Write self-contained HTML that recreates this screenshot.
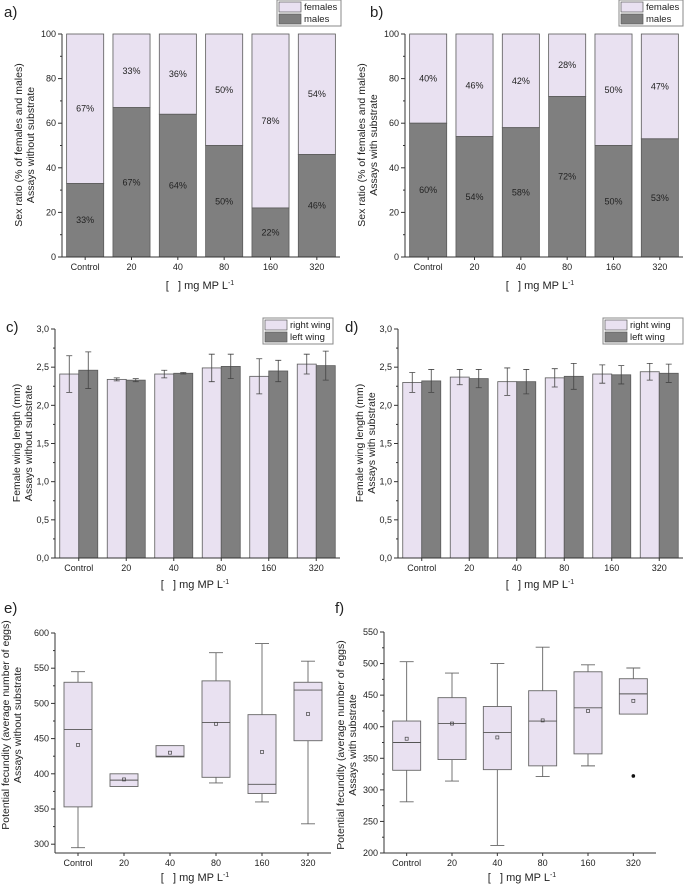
<!DOCTYPE html>
<html><head><meta charset="utf-8">
<style>
html,body{margin:0;padding:0;background:#fff;}
svg{display:block;font-family:"Liberation Sans",Arial,sans-serif;}
</style></head>
<body>
<svg id="fig" width="685" height="887" viewBox="0 0 685 887" xmlns="http://www.w3.org/2000/svg"></svg>
<script>
const categories = ["Control","20","40","80","160","320"];
// sex ratio (males %)
const malesA = [33,67,64,50,22,46];
const malesB = [60,54,58,72,50,53];
// wing lengths
const rightC = [2.41,2.34,2.41,2.49,2.38,2.54];
const rightCErr = [0.24,0.02,0.05,0.18,0.23,0.13];
const leftC = [2.46,2.33,2.42,2.51,2.45,2.52];
const leftCErr = [0.24,0.02,0.01,0.16,0.14,0.19];
const rightD = [2.30,2.37,2.31,2.36,2.41,2.44];
const rightDErr = [0.13,0.10,0.18,0.12,0.12,0.11];
const leftD = [2.32,2.35,2.31,2.38,2.40,2.42];
const leftDErr = [0.15,0.12,0.16,0.17,0.12,0.12];
// fecundity boxes: [whiskerLow, q1, median, q3, whiskerHigh, mean]
const boxE_low = [295,382,424,387,360,329];
const boxE_q1 = [353,382,424,395,372,447];
const boxE_med = [463,391,425,473,385,519];
const boxE_q3 = [530,400,440,532,484,530];
const boxE_high = [545,400,440,572,585,560];
const boxE_mean = [441,392,430,471,431,485];
const boxF_low = [281,314,212,321,338,420];
const boxF_q1 = [331,348,332,338,357,420];
const boxF_med = [375,405,391,409,430,452];
const boxF_q3 = [409,446,432,457,487,476];
const boxF_high = [503,485,500,526,498,493];
const boxF_mean = [381,405,383,410,425,441];
const outliersF = [[5,322]];
const ticksSex = [0,20,40,60,80,100];
const ticksWing = [0,0.5,1.0,1.5,2.0,2.5,3.0];
const ticksE = [300,350,400,450,500,550,600];
const ticksF = [200,250,300,350,400,450,500,550];

const svg = document.getElementById('fig');
const NS = 'http://www.w3.org/2000/svg';
const LIGHT = '#e9e1f1', DARK = '#7f7f7f', EDGE = '#5a5a5a';
function el(tag, attrs, parent){
  const e = document.createElementNS(NS, tag);
  for (const k in attrs) e.setAttribute(k, attrs[k]);
  (parent||svg).appendChild(e); return e;
}
function txt(x,y,s,size,anchor,parent,rot){
  const t = el('text',{x:x,y:y,'font-size':size,'text-anchor':anchor||'middle',fill:'#222'},parent);
  if (rot) t.setAttribute('transform','rotate(-90 '+x+' '+y+')');
  t.textContent = s; return t;
}
function fmt(v,comma){ return comma ? v.toFixed(1).replace('.',',') : String(v); }

function axes(g, L, R, T, B, yMin, yMax, ticks, comma, minor){
  const ys = v => B - (v - yMin)/(yMax - yMin)*(B - T);
  el('line',{x1:L,y1:T,x2:L,y2:B,stroke:'#333','stroke-width':1},g);
  el('line',{x1:L,y1:B,x2:R,y2:B,stroke:'#333','stroke-width':1},g);
  ticks.forEach((v,i)=>{
    const y = ys(v);
    el('line',{x1:L-4,y1:y,x2:L,y2:y,stroke:'#333'},g);
    const t = txt(L-6,y+3,fmt(v,comma),9,'end',g);
    
    
    if (minor && i < ticks.length-1){
      const ym = ys((v+ticks[i+1])/2);
      el('line',{x1:L-2,y1:ym,x2:L,y2:ym,stroke:'#333'},g);
    }
  });
  return ys;
}
function xLabels(g, L, band, B){
  categories.forEach((c,i)=>{
    const x = L + band*(i+0.5);
    el('line',{x1:x,y1:B,x2:x,y2:B+3,stroke:'#333'},g);
    const t = txt(x,B+13,c,9,'middle',g);
    
    
  });
}
function xTitle(g,x,y){
  const t = el('text',{x:x,y:y,'font-size':11,'text-anchor':'middle',fill:'#222'},g);
  
  
  t.innerHTML = '[&#160;&#160;&#160;] mg MP L<tspan dy="-4" font-size="7">-1</tspan>';
}
function yTitle(g,x,y,l1,l2){
  const t1 = txt(x,y,l1,10.5,'middle',g,true);
  
  
  const t2 = txt(x+12,y,l2,10.5,'middle',g,true);
  
  
}
function panelLabel(x,y,s){
  const t = txt(x,y,s,15,'start');
  
  
}
function legend(g,x,y,w,labels){
  const r = el('rect',{x:x,y:y,width:w,height:26,fill:'#fff',stroke:'#888'},g);
  
  
  labels.forEach((lb,i)=>{
    const s = el('rect',{x:x+2,y:y+2+i*12,width:22,height:10,fill:i?DARK:LIGHT,stroke:EDGE,'stroke-width':0.7},g);
    
    
    const t = txt(x+27,y+10+i*12,lb,9.5,'start',g);
    
    
  });
}

function sexPanel(name, L, R, T, B, males){
  const g = el('g',{});  
  const band = (R-L)/6, bw = band*0.8;
  const ys = v => B - v/100*(B-T);
  males.forEach((m,i)=>{
    const x = L + band*(i+0.5) - bw/2;
    const f = el('rect',{x:x,y:ys(100),width:bw,height:ys(m)-ys(100),fill:LIGHT,stroke:EDGE,'stroke-width':0.8},g);
     
    const mm = el('rect',{x:x,y:ys(m),width:bw,height:B-ys(m),fill:DARK,stroke:EDGE,'stroke-width':0.8},g);
     
    const t1 = txt(x+bw/2,(ys(100)+ys(m))/2+3,(100-m)+'%',9,'middle',g);
     
    const t2 = txt(x+bw/2,(ys(m)+B)/2+3,m+'%',9,'middle',g);
     
  });
  axes(g,L,R,T,B,0,100,ticksSex,false,true);
  xLabels(g,L,band,B);
  return g;
}
function wingPanel(name, L, R, T, B, rv, re, lv, le){
  const g = el('g',{});  
  const band = (R-L)/6, bw = band*0.4;
  const ys = v => B - v/3*(B-T);
  [[rv,re,LIGHT,'bar-right-wing',-1],[lv,le,DARK,'bar-left-wing',0]].forEach(s=>{
    s[0].forEach((v,i)=>{
      const x = L + band*(i+0.5) + s[4]*bw;
      const r = el('rect',{x:x,y:ys(v),width:bw,height:B-ys(v),fill:s[2],stroke:EDGE,'stroke-width':0.8},g);
       
      const cx = x+bw/2, e = s[1][i];
      const eb = el('path',{d:'M'+cx+' '+ys(v-e)+'V'+ys(v+e)+'M'+(cx-3)+' '+ys(v-e)+'h6M'+(cx-3)+' '+ys(v+e)+'h6',stroke:'#444',fill:'none','stroke-width':0.8},g);
       
    });
  });
  axes(g,L,R,T,B,0,3,ticksWing,true,true);
  xLabels(g,L,band,B);
  return g;
}
function boxPanel(name, L, R, T, B, yMin, yMax, ticks, lo, q1, md, q3, hi, mn, outs){
  const g = el('g',{});  
  const band = (R-L)/6, bw = 28;
  const ys = v => B - (v-yMin)/(yMax-yMin)*(B-T);
  md.forEach((m,i)=>{
    const cx = L + band*(i+0.5), x = cx-bw/2;
    const w = el('path',{d:'M'+cx+' '+ys(hi[i])+'V'+ys(q3[i])+'M'+cx+' '+ys(q1[i])+'V'+ys(lo[i])+
      'M'+(cx-7)+' '+ys(hi[i])+'h14M'+(cx-7)+' '+ys(lo[i])+'h14',stroke:'#666',fill:'none','stroke-width':0.9},g);
    if (hi[i]===q3[i]) w.setAttribute('d','M'+cx+' '+ys(q1[i])+'V'+ys(lo[i])+(lo[i]===q1[i]?'':'M'+(cx-7)+' '+ys(lo[i])+'h14'));
    if (hi[i]===q3[i] && lo[i]===q1[i]) w.setAttribute('d','');
    if (lo[i]===q1[i] && hi[i]!==q3[i]) w.setAttribute('d','M'+cx+' '+ys(hi[i])+'V'+ys(q3[i])+'M'+(cx-7)+' '+ys(hi[i])+'h14');
     
    const b = el('rect',{x:x,y:ys(q3[i]),width:bw,height:ys(q1[i])-ys(q3[i]),fill:LIGHT,stroke:'#666','stroke-width':0.9},g);
     
    const ml = el('line',{x1:x,y1:ys(m),x2:x+bw,y2:ys(m),stroke:'#555','stroke-width':0.9},g);
     
    const mk = el('rect',{x:cx-1.5,y:ys(mn[i])-1.5,width:3,height:3,fill:'none',stroke:'#444','stroke-width':0.7},g);
     
  });
  outs.forEach(o=>{
    const c = el('circle',{cx:L+band*(o[0]+0.5),cy:ys(o[1]),r:1.8,fill:'#111'},g);
     
  });
  axes(g,L,R,T,B,yMin,yMax,ticks,false,true);
  xLabels(g,L,band,B);
  return g;
}

// a
let g = sexPanel('chart-a',62,340,34,257,malesA);
legend(g,277,0,64,['females','males']);
yTitle(g,22,145,'Sex ratio (% of females and males)','Assays without substrate');
xTitle(g,200,289);
panelLabel(4,17,'a)');
// b
g = sexPanel('chart-b',405,683,34,257,malesB);
legend(g,619,0,64,['females','males']);
yTitle(g,365,145,'Sex ratio (% of females and males)','Assays with substrate');
xTitle(g,540,289);
panelLabel(370,17,'b)');
// c
g = wingPanel('chart-c',55,340,329,558,rightC,rightCErr,leftC,leftCErr);
legend(g,263,318,70,['right wing','left wing']);
yTitle(g,20,443,'Female wing length (mm)','Assays without substrate');
xTitle(g,195,588);
panelLabel(6,332,'c)');
// d
g = wingPanel('chart-d',398,683,329,558,rightD,rightDErr,leftD,leftDErr);
legend(g,603,318,80,['right wing','left wing']);
yTitle(g,363,443,'Female wing length (mm)','Assays with substrate');
xTitle(g,540,588);
panelLabel(345,332,'d)');
// e
g = boxPanel('chart-e',55,331,633,853,287.5,600,ticksE,boxE_low,boxE_q1,boxE_med,boxE_q3,boxE_high,boxE_mean,[]);
yTitle(g,9,725,'Potential fecundity (average number of eggs)','Assays without substrate');
xTitle(g,195,881);
panelLabel(4,613,'e)');
// f
g = boxPanel('chart-f',384,656,632,853,200,550,ticksF,boxF_low,boxF_q1,boxF_med,boxF_q3,boxF_high,boxF_mean,outliersF);
yTitle(g,344,745,'Potential fecundity (average number of eggs)','Assays with substrate');
xTitle(g,522,881);
panelLabel(335,613,'f)');
</script>
</body></html>
